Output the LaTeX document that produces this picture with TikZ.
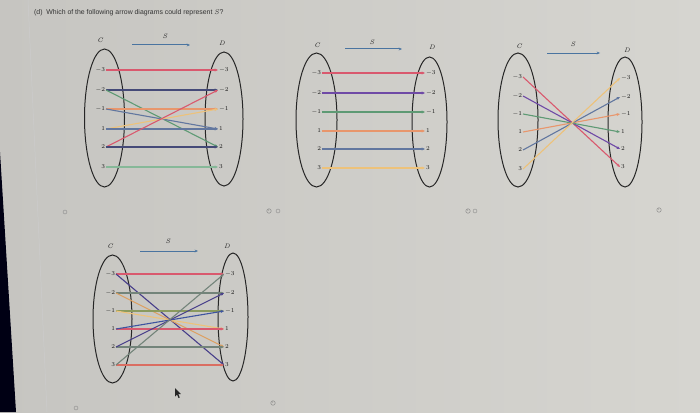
\documentclass[tikz,border=0pt]{standalone}
\usepackage{fontspec}
\newfontfamily\titlefont{Liberation Sans}
\usetikzlibrary{arrows.meta}
\definecolor{bgL}{HTML}{C6C5C1}
\definecolor{bgM}{HTML}{DFDED9}
\definecolor{bgR}{HTML}{D6D5D0}
\definecolor{cred}{HTML}{D9596E}
\definecolor{cnavy}{HTML}{454A78}
\definecolor{cgreen}{HTML}{5E9A74}
\definecolor{clgreen}{HTML}{86B898}
\definecolor{corange}{HTML}{E8966C}
\definecolor{cblue}{HTML}{62779F}
\definecolor{cyellow}{HTML}{EDC27A}
\definecolor{cpurple}{HTML}{6F4AA6}
\definecolor{cgray}{HTML}{73847A}
\definecolor{ctan}{HTML}{DDA060}
\definecolor{colive}{HTML}{8A9A5E}
\definecolor{cdblue}{HTML}{3F55A0}
\definecolor{cdpurple}{HTML}{483F8A}
\definecolor{ccoral}{HTML}{DA6E62}
\definecolor{sblue}{HTML}{4A74A0}
\tikzset{
  lab/.style={font=\fontsize{6.3}{7}\selectfont, inner sep=0.8pt, text=black!90},
  hd/.style={font=\fontsize{6.5}{7}\selectfont\itshape, inner sep=0.5pt, text=black!90},
  conn/.style={line width=1.1pt, -{Stealth[length=3.4pt,width=3pt]}},
  setell/.style={draw=black!85, line width=1pt},
  sarrow/.style={draw=sblue, line width=1pt, -{Stealth[length=3.4pt,width=2.8pt]}},
  radio/.style={circle, draw=black!45, line width=0.4pt, minimum size=4pt, inner sep=0pt},
  info/.style={circle, draw=black!50, line width=0.4pt, minimum size=4.5pt, inner sep=0pt,
    font=\fontsize{3}{3}\selectfont, text=black!60},
}
\begin{document}
\begin{tikzpicture}[x=1pt,y=-1pt]
\useasboundingbox (0,0) rectangle (700,412);
% background (photo of a screen)
\shade[left color=bgL, middle color=bgM, right color=bgR] (0,0) rectangle (700,412);
\fill[black!92!blue] (0,152) -- (16,412) -- (0,412) -- cycle;
\draw[black!20, line width=0.5pt] (28,0) -- (47,412);
% title
\node[anchor=west, font=\titlefont\fontsize{6.9}{8}\selectfont, text=black!80, inner sep=0pt] (title) at (34,13)
  {(d)\ \ Which of the following arrow diagrams could represent $S$?};

% ---------------- Diagram A ----------------
\node[hd] (A-C) at (100,40) {C};
\node[hd] (A-S) at (165,36) {S};
\node[hd] (A-D) at (222,43) {D};
\coordinate (A-s1) at (132,45); \coordinate (A-s2) at (190,45);
\draw[sarrow] (A-s1) -- (A-s2);
\draw[setell] (104.5,118) ellipse [x radius=20, y radius=69];
\draw[setell] (224,119) ellipse [x radius=19, y radius=67];
\foreach \n/\t/\y in {1/-3/70,2/-2/90,3/-1/109,4/1/129,5/2/147,6/3/167}{
  \node[lab,anchor=east] (A-L\n) at (106,\y) {$\t$};
  \node[lab,anchor=west] (A-R\n) at (218,\y) {$\t$};
}
\draw[conn,cred] (A-L1.east) -- (A-R1.west);
\draw[conn,cnavy] (A-L2.east) -- (A-R2.west);
\draw[conn,cgreen] (A-L2.east) -- (A-R5.west);
\draw[conn,corange] (A-L3.east) -- (A-R3.west);
\draw[conn,cblue] (A-L3.east) -- (A-R4.west);
\draw[conn,cyellow] (A-L4.east) -- (A-R3.west);
\draw[conn,cblue] (A-L4.east) -- (A-R4.west);
\draw[conn,cred] (A-L5.east) -- (A-R2.west);
\draw[conn,cnavy] (A-L5.east) -- (A-R5.west);
\draw[conn,clgreen] (A-L6.east) -- (A-R6.west);

% ---------------- Diagram B ----------------
\node[hd] (B-C) at (317,45) {C};
\node[hd] (B-S) at (372,42) {S};
\node[hd] (B-D) at (432,47) {D};
\coordinate (B-s1) at (345,49); \coordinate (B-s2) at (402,49);
\draw[sarrow] (B-s1) -- (B-s2);
\draw[setell] (316.5,120) ellipse [x radius=20.5, y radius=67];
\draw[setell] (429.5,122) ellipse [x radius=17.5, y radius=65];
\foreach \n/\t/\y in {1/-3/73,2/-2/93,3/-1/112,4/1/131,5/2/149,6/3/168}{
  \node[lab,anchor=east] (B-L\n) at (322,\y) {$\t$};
  \node[lab,anchor=west] (B-R\n) at (425,\y) {$\t$};
}
\draw[conn,cred] (B-L1.east) -- (B-R1.west);
\draw[conn,cpurple] (B-L2.east) -- (B-R2.west);
\draw[conn,cgreen] (B-L3.east) -- (B-R3.west);
\draw[conn,corange] (B-L4.east) -- (B-R4.west);
\draw[conn,cblue] (B-L5.east) -- (B-R5.west);
\draw[conn,cyellow] (B-L6.east) -- (B-R6.west);

% ---------------- Diagram C ----------------
\node[hd] (C-C) at (519,46) {C};
\node[hd] (C-S) at (573,44) {S};
\node[hd] (C-D) at (627,50) {D};
\coordinate (C-s1) at (547,53); \coordinate (C-s2) at (600,53);
\draw[sarrow] (C-s1) -- (C-s2);
\draw[setell] (518,120) ellipse [x radius=20, y radius=67];
\draw[setell] (625,122) ellipse [x radius=17, y radius=65];
\foreach \n/\t/\y in {1/-3/77,2/-2/96,3/-1/114,4/1/132,5/2/150,6/3/169}{
  \node[lab,anchor=east] (C-L\n) at (523,\y) {$\t$};
}
\foreach \n/\t/\y in {1/-3/78,2/-2/97,3/-1/114,4/1/132,5/2/149,6/3/167}{
  \node[lab,anchor=west] (C-R\n) at (620,\y) {$\t$};
}
\draw[conn,cred] (C-L1.east) -- (C-R6.west);
\draw[conn,cpurple] (C-L2.east) -- (C-R5.west);
\draw[conn,cgreen] (C-L3.east) -- (C-R4.west);
\draw[conn,corange] (C-L4.east) -- (C-R3.west);
\draw[conn,cblue] (C-L5.east) -- (C-R2.west);
\draw[conn,cyellow] (C-L6.east) -- (C-R1.west);

% ---------------- Diagram D ----------------
\node[hd] (D-C) at (110,246) {C};
\node[hd] (D-S) at (168,241) {S};
\node[hd] (D-D) at (227,246) {D};
\coordinate (D-s1) at (140,251); \coordinate (D-s2) at (198,251);
\draw[sarrow] (D-s1) -- (D-s2);
\draw[setell] (112.5,319) ellipse [x radius=19.5, y radius=64];
\draw[setell] (233,317) ellipse [x radius=15, y radius=64];
\foreach \n/\t/\y in {1/-3/274,2/-2/293,3/-1/311,4/1/329,5/2/347,6/3/365}{
  \node[lab,anchor=east] (D-L\n) at (116,\y) {$\t$};
  \node[lab,anchor=west] (D-R\n) at (224,\y) {$\t$};
}
\draw[conn,cred] (D-L1.east) -- (D-R1.west);
\draw[conn,cdpurple] (D-L1.east) -- (D-R6.west);
\draw[conn,cgray] (D-L2.east) -- (D-R2.west);
\draw[conn,ctan] (D-L2.east) -- (D-R5.west);
\draw[conn,colive] (D-L3.east) -- (D-R3.west);
\draw[conn,cyellow] (D-L3.east) -- (D-R4.west);
\draw[conn,cred] (D-L4.east) -- (D-R4.west);
\draw[conn,cdblue] (D-L4.east) -- (D-R3.west);
\draw[conn,cgray] (D-L5.east) -- (D-R5.west);
\draw[conn,cdpurple] (D-L5.east) -- (D-R2.west);
\draw[conn,ccoral] (D-L6.east) -- (D-R6.west);
\draw[conn,cgray] (D-L6.east) -- (D-R1.west);

% ---------------- answer buttons ----------------
\node[radio] (r1) at (65,212) {};
\node[info] (i2) at (269,211) {i};
\node[radio] (r2) at (278,211) {};
\node[info] (i3) at (468,211) {i};
\node[radio] (r3) at (475,211) {};
\node[info] (i4) at (659,210) {i};
\node[radio] (r4) at (76,408) {};
\node[info] (i5) at (273,403) {i};
% mouse cursor
\fill[black!85] (175,388) -- (175,396.5) -- (177,394.6) -- (178.6,398) -- (179.8,397.4) -- (178.2,394.1) -- (180.8,394) -- cycle;
\end{tikzpicture}
\end{document}
